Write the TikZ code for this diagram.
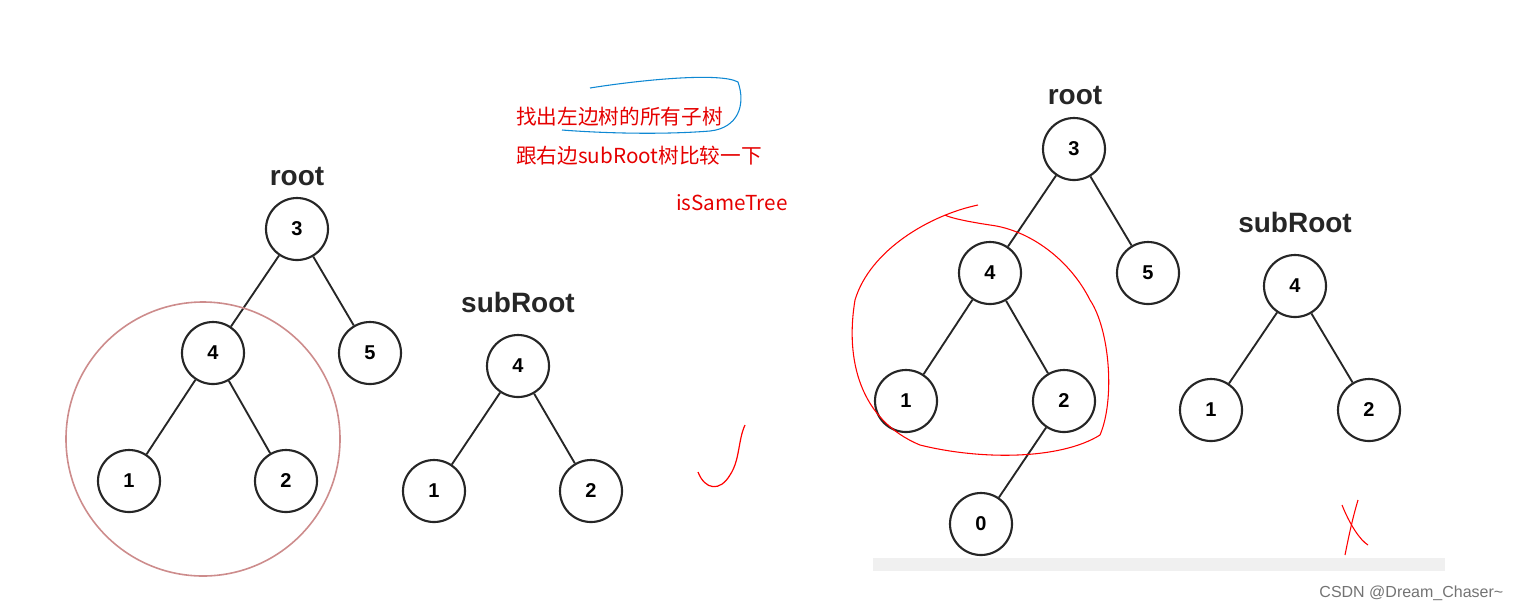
\documentclass[tikz,border=0pt]{standalone}
\usepackage{fontspec}
\setmainfont{Liberation Sans}
\newfontfamily\cjk{Noto Sans CJK SC}
\begin{document}
\begin{tikzpicture}[x=0.75pt,y=-0.75pt,
  nd/.style={circle,draw=black!85,line width=1.6pt,minimum size=46.5pt,inner sep=0pt,font=\fontsize{15}{15}\selectfont\bfseries},
  ed/.style={draw=black!85,line width=1.4pt},
  lb/.style={font=\fontsize{21}{21}\selectfont\bfseries,text=black!85},
  rt/.style={font=\cjk\fontsize{15.5}{16}\selectfont,text=red!90!black,anchor=west,inner sep=0pt}]
\useasboundingbox (0,0) rectangle (1520,612);
% left tree
\node[lb] (lroot) at (297,176) {root};
\node[nd] (a3) at (297,229) {3};
\node[nd] (a4) at (213,353) {4};
\node[nd] (a5) at (370,353) {5};
\node[nd] (a1) at (129,481) {1};
\node[nd] (a2) at (286,481) {2};
\draw[ed] (a3)--(a4) (a3)--(a5) (a4)--(a1) (a4)--(a2);
\draw[color={rgb,255:red,205;green,140;blue,140},line width=1.2pt] (203,439) circle (137);
% middle subroot
\node[lb] (ms) at (518,302) {subRoot};
\node[nd] (b4) at (518,366) {4};
\node[nd] (b1) at (434,491) {1};
\node[nd] (b2) at (591,491) {2};
\draw[ed] (b4)--(b1) (b4)--(b2);
% text
\node[rt] (t1) at (516,117) {找出左边树的所有子树};
\node[rt] (t2) at (516,156) {跟右边subRoot树比较一下};
\node[rt] (t3) at (676,203) {isSameTree};
\draw[cyan!70!blue,line width=0.8pt] (590,88) .. controls (640,80) and (720,72) .. (738,82) .. controls (746,105) and (738,128) .. (710,131) .. controls (660,135) and (600,133) .. (562,130);
% check
\draw[red,line width=0.9pt] (698,472) .. controls (705,490) and (720,492) .. (730,475) .. controls (740,460) and (738,440) .. (745,425);
% right tree
\node[lb] (rroot) at (1075,95) {root};
\node[nd] (c3) at (1074,149) {3};
\node[nd] (c4) at (990,273) {4};
\node[nd] (c5) at (1148,273) {5};
\node[nd] (c1) at (906,401) {1};
\node[nd] (c2) at (1064,401) {2};
\node[nd] (c0) at (981,524) {0};
\draw[ed] (c3)--(c4) (c3)--(c5) (c4)--(c1) (c4)--(c2) (c2)--(c0);
\draw[red,line width=0.8pt] (978,205) .. controls (930,215) and (870,250) .. (855,300) .. controls (845,360) and (860,420) .. (920,445) .. controls (980,460) and (1060,460) .. (1100,435) .. controls (1115,400) and (1110,330) .. (1090,300) .. controls (1070,260) and (1030,230) .. (990,225) .. controls (970,222) and (950,218) .. (945,215);
% right subroot
\node[lb] (rs) at (1295,222) {subRoot};
\node[nd] (d4) at (1295,286) {4};
\node[nd] (d1) at (1211,410) {1};
\node[nd] (d2) at (1369,410) {2};
\draw[ed] (d4)--(d1) (d4)--(d2);
% X
\draw[red,line width=0.8pt] (1342,505) .. controls (1350,525) and (1360,540) .. (1368,545);
\draw[red,line width=0.8pt] (1358,500) .. controls (1352,520) and (1348,540) .. (1345,555);
% gray bar
\fill[black!6] (873,558) rectangle (1445,571);
\node[anchor=east,text=black!55,font=\fontsize{12}{12}\selectfont] (wm) at (1508,593) {CSDN @Dream\_Chaser\textasciitilde};
\end{tikzpicture}
\end{document}
